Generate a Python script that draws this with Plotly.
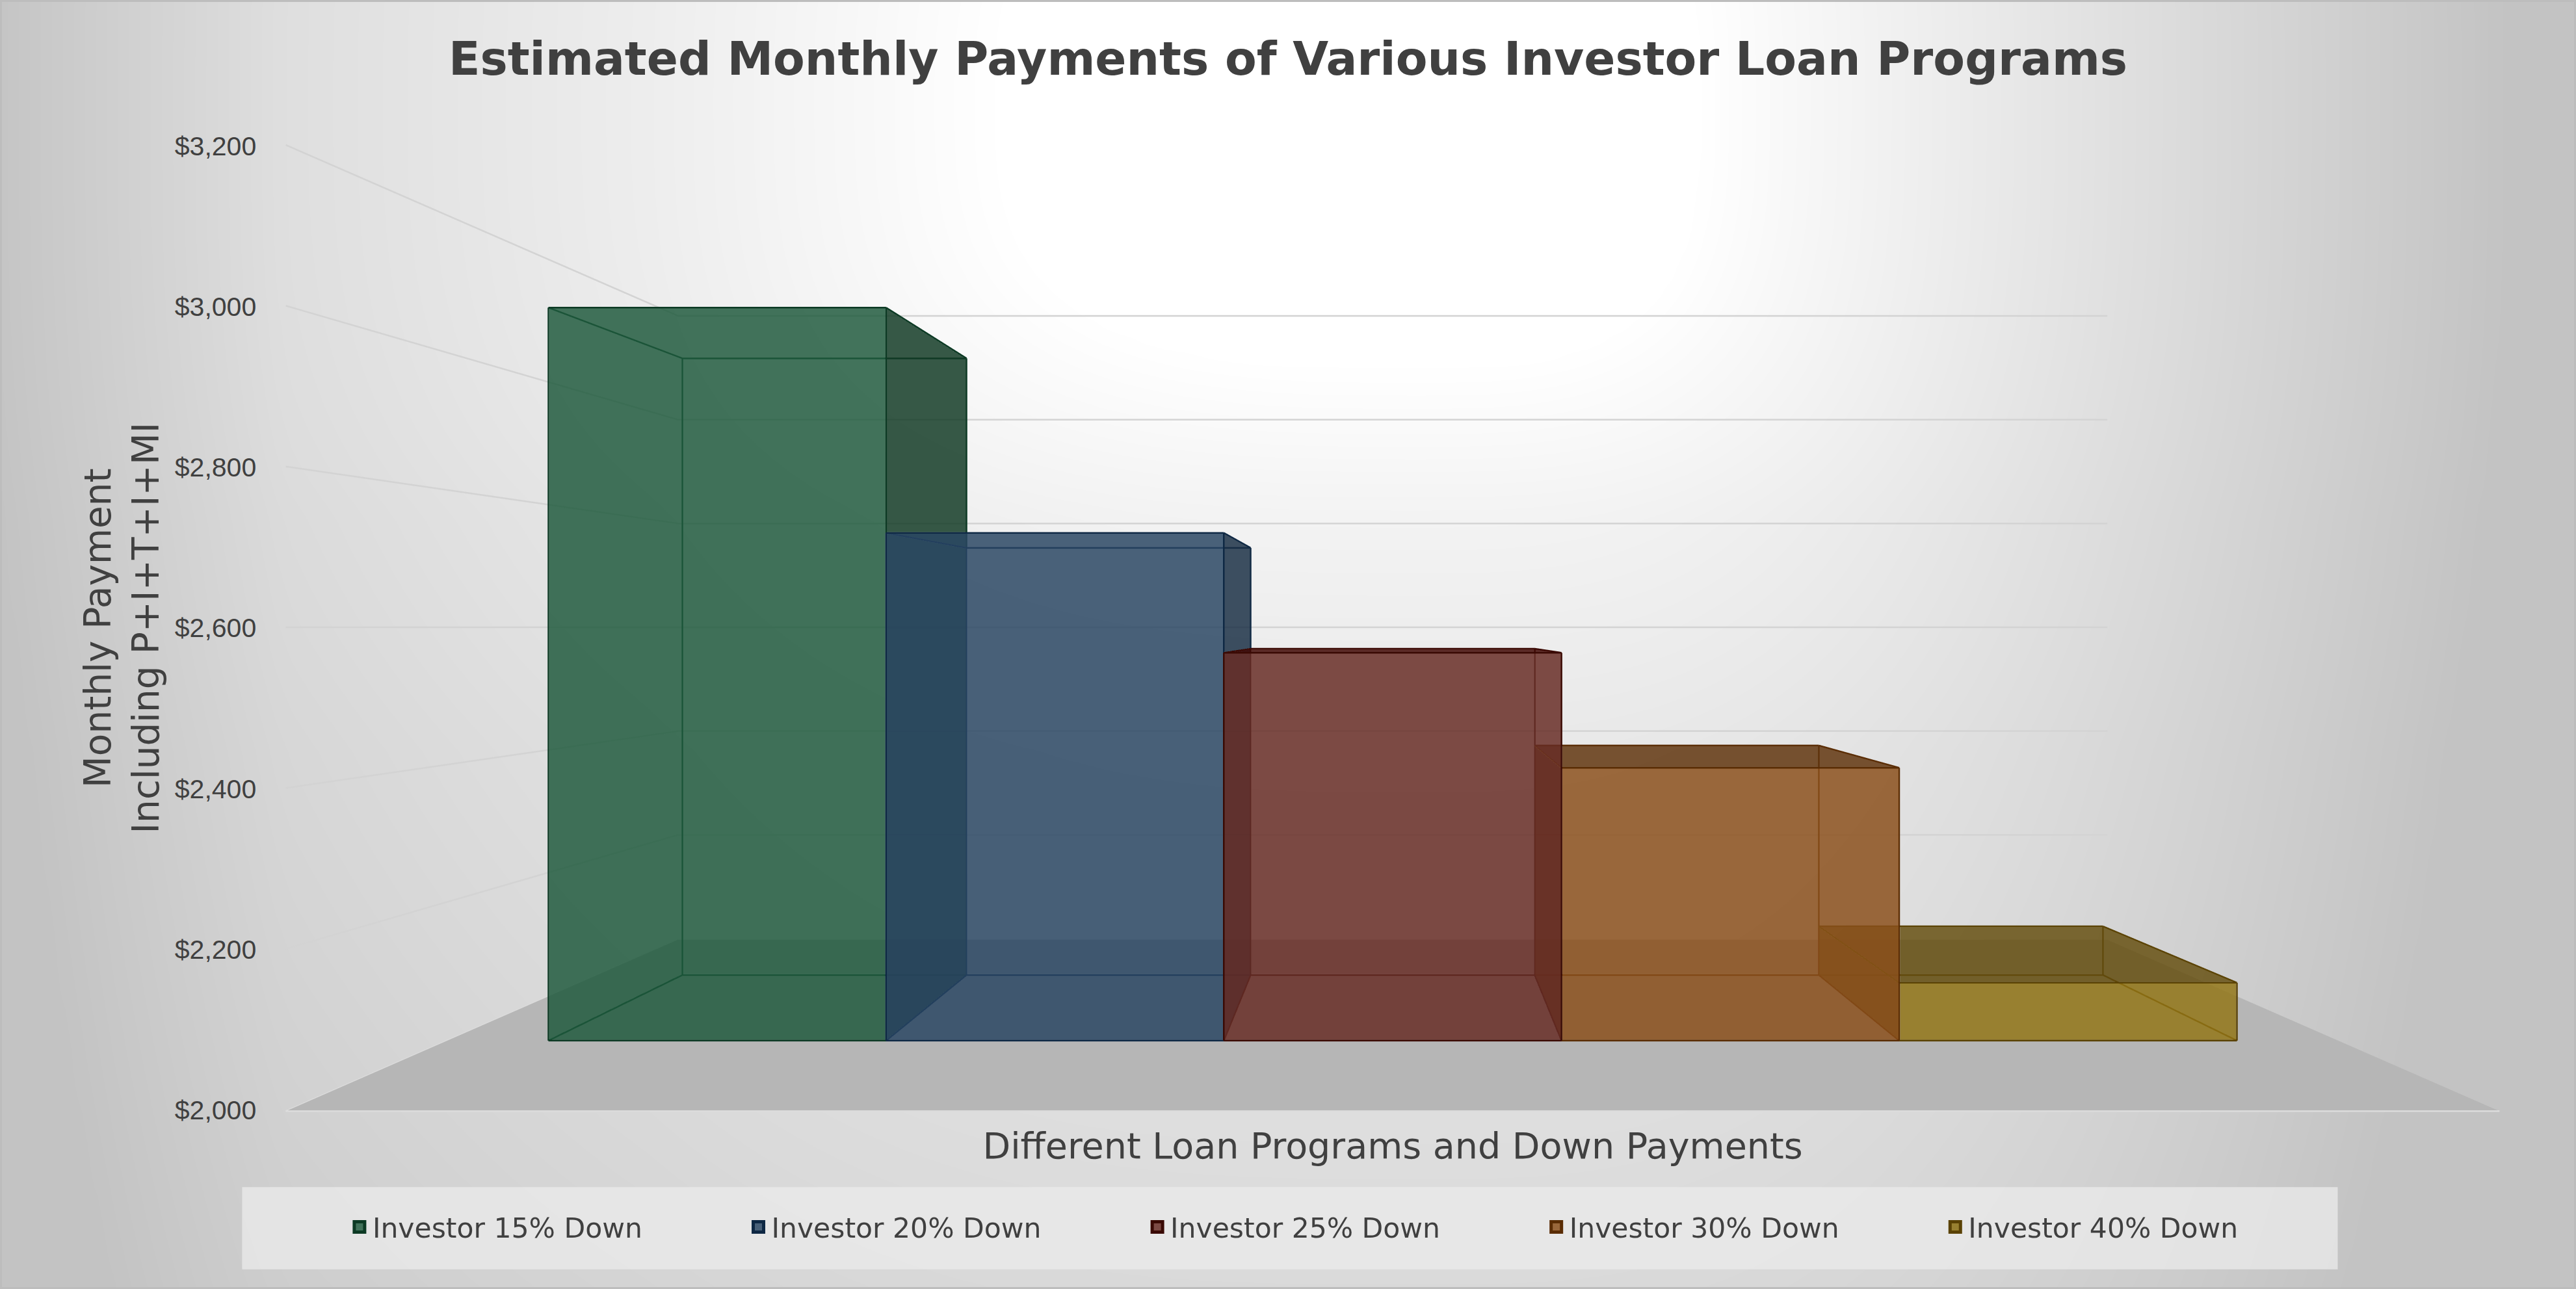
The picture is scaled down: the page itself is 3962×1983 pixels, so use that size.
import numpy as np
import plotly.graph_objects as go

# values
programs = ["Investor 15% Down", "Investor 20% Down", "Investor 25% Down", "Investor 30% Down", "Investor 40% Down"]
payments = [3064, 2737, 2563, 2396, 2084]
tick_values = [2000, 2200, 2400, 2600, 2800, 3000, 3200]

# front face is lighter, every other face of a box uses the darker one
front_colors = ["#246646", "#2f4e6e", "#763a32", "#9b5a20", "#a58519"]
other_colors = ["#113924", "#192e44", "#3e0500", "#5f330c", "#654e0f"]
edge_colors = ["#0c3a24", "#0e2844", "#3a0a04", "#5a2c04", "#5a4204"]
legend_colors = ["#41725a", "#486078", "#7c4a44", "#99673b", "#988030"]

TEXT = "#404040"
FLOOR = 2000
X_WALL = [-0.809, 4.809]
DEPTH_FRONT, DEPTH_BACK = 0.304, 0.705
FLAT = dict(ambient=1, diffuse=0, specular=0)
# boxes are blended in this order: the middle one last, it is nearest on both sides
draw_order = [0, 1, 4, 3, 2]

fig = go.Figure()

# grey radial background, sits on its own full page axes
gx = np.linspace(0, 1, 160)
gy = np.linspace(0, 1, 80)
xx, yy = np.meshgrid(gx, gy)
rx = np.where(xx < 0.55, np.interp(0.55 - xx, [0, 0.3, 0.44, 0.55], [0, 0.45, 0.62, 0.92]), (xx - 0.55) / 0.45)
ry = np.interp(np.abs(0.92 - yy), [0, 0.32, 0.5, 0.92], [0, 0.38, 0.5, 0.68])
r = (rx ** 3 + ry ** 3) ** (1 / 3)
shade = np.clip(255 - 65 * np.clip(r - 0.24, 0, None) / 0.76, 195, 255)
fig.add_trace(go.Heatmap(x=gx, y=gy, z=shade, zmin=0, zmax=255, zsmooth="best",
                         colorscale=[[0, "#000000"], [1, "#ffffff"]], showscale=False,
                         hoverinfo="skip"))

# floor of the chart, just under the boxes so their bottoms are not lost in it
floor_z = FLOOR - 2
fig.add_trace(go.Mesh3d(x=[X_WALL[0], X_WALL[1], X_WALL[1], X_WALL[0]], y=[0, 0, 1, 1], z=[floor_z] * 4,
                        i=[0, 0], j=[1, 2], k=[2, 3], color="#b6b6b6", flatshading=True,
                        lighting=FLAT, hoverinfo="skip"))
fig.add_trace(go.Scatter3d(x=[X_WALL[0], X_WALL[0], X_WALL[1]], y=[1, 0, 0], z=[floor_z] * 3, mode="lines",
                           line=dict(color="#dcdcdc", width=5), hoverinfo="skip", showlegend=False))

# gridlines run along the left wall and then across the back wall
grid_x, grid_y, grid_z = [], [], []
for v in tick_values[1:]:
    grid_x += [X_WALL[0], X_WALL[0], X_WALL[1], None]
    grid_y += [0, 1, 1, None]
    grid_z += [v, v, v, None]
fig.add_trace(go.Scatter3d(x=grid_x, y=grid_y, z=grid_z, mode="lines",
                           line=dict(color="#d3d3d3", width=5), hoverinfo="skip", showlegend=False))

for i in draw_order:
    name, value = programs[i], payments[i]
    x0, x1 = i - 0.5, i + 0.5
    y0, y1 = DEPTH_FRONT, DEPTH_BACK
    xs = [x0, x1, x1, x0, x0, x1, x1, x0]
    ys = [y0, y0, y1, y1, y0, y0, y1, y1]
    zs = [FLOOR] * 4 + [value] * 4
    # triangles are blended in the order given: back, bottom, left, right, top, front
    tri_i = [2, 2, 0, 0, 3, 3, 1, 1, 4, 4, 0, 0]
    tri_j = [3, 7, 1, 2, 0, 4, 2, 6, 5, 6, 1, 5]
    tri_k = [7, 6, 2, 3, 4, 7, 6, 5, 6, 7, 5, 4]
    facecolor = [other_colors[i]] * 10 + [front_colors[i]] * 2
    fig.add_trace(go.Mesh3d(x=xs, y=ys, z=zs, i=tri_i, j=tri_j, k=tri_k, facecolor=facecolor,
                            opacity=0.6, flatshading=True, lighting=FLAT, name=name, hoverinfo="name"))

    # box outline
    ex, ey, ez = [], [], []
    for a, b in [(0, 1), (1, 2), (2, 3), (3, 0), (4, 5), (5, 6), (6, 7), (7, 4), (0, 4), (1, 5), (2, 6), (3, 7)]:
        ex += [xs[a], xs[b], None]
        ey += [ys[a], ys[b], None]
        ez += [zs[a], zs[b], None]
    fig.add_trace(go.Scatter3d(x=ex, y=ey, z=ez, mode="lines", line=dict(color=edge_colors[i], width=5),
                               hoverinfo="skip", showlegend=False))

# legend entries, in the order of the programs
for i, name in enumerate(programs):
    fig.add_trace(go.Scatter(x=[None], y=[None], xaxis="x2", yaxis="y2", mode="markers", name=name,
                             marker=dict(symbol="square", size=16, color=legend_colors[i],
                                         line=dict(color=edge_colors[i], width=5))))

fig.update_layout(
    width=3962, height=1983,
    margin=dict(l=0, r=0, t=0, b=0, pad=0, autoexpand=False),
    paper_bgcolor="#ffffff",
    plot_bgcolor="rgba(0,0,0,0)",
    title=dict(text="<b>Estimated Monthly Payments of Various Investor Loan Programs</b>",
               x=0.5, xanchor="center", y=0.9545, yanchor="middle",
               font=dict(family="DejaVu Sans", size=71, color=TEXT)),
    xaxis=dict(domain=[0, 1], range=[0, 1], visible=False),
    yaxis=dict(domain=[0, 1], range=[0, 1], visible=False),
    xaxis2=dict(domain=[0.0813, 1], range=[0, 1], anchor="y2", showticklabels=False, showgrid=False, zeroline=False,
                showline=False, ticks="",
                title=dict(text="Different Loan Programs and Down Payments", standoff=35,
                           font=dict(family="DejaVu Sans", size=55.5, color=TEXT))),
    yaxis2=dict(domain=[0.1388, 0.8868], range=[2000, 3200], anchor="free", position=0.0995,
                tickvals=tick_values, tickformat="$,.0f", showgrid=False, zeroline=False, showline=False,
                ticks="", tickfont=dict(family="Liberation Sans", size=41, color=TEXT),
                title=dict(text="Monthly Payment<br>Including P+I+T+I+MI", standoff=5,
                           font=dict(family="DejaVu Sans", size=56.5, color=TEXT))),
    scene=dict(
        domain=dict(x=[0.0813, 1], y=[0.0287, 0.9987]),
        bgcolor="rgba(0,0,0,0)",
        aspectmode="manual",
        # ranges are a bit wider than the walls so the floor is not clipped at the scene bounds
        aspectratio=dict(x=1.4655 * 6.618 / 5.618, y=0.5487 * 1.2, z=0.6387 * 1400 / 1200),
        camera=dict(eye=dict(x=0, y=-1.274, z=0), center=dict(x=0, y=0, z=0), up=dict(x=0, y=0, z=1),
                    projection=dict(type="perspective")),
        xaxis=dict(visible=False, range=[-1.309, 5.309]),
        yaxis=dict(visible=False, range=[-0.1, 1.1]),
        zaxis=dict(visible=False, range=[1900, 3300]),
    ),
    legend=dict(orientation="h", x=0.1345, xanchor="left", y=0.048, yanchor="middle",
                bgcolor="rgba(0,0,0,0)", entrywidth=568.6, entrywidthmode="pixels",
                font=dict(family="DejaVu Sans", size=42.5, color=TEXT)),
    shapes=[
        dict(type="rect", xref="paper", yref="paper", x0=0.094, x1=0.9075, y0=0.0153, y1=0.079,
             fillcolor="rgba(235,235,235,0.75)", line=dict(width=0), layer="above"),
        dict(type="rect", xref="paper", yref="paper", x0=0, x1=1, y0=0, y1=1,
             line=dict(color="#bdbdbd", width=6), fillcolor="rgba(0,0,0,0)", layer="above"),
    ],
)

# the page's default body margin would push the chart off the window by a few pixels
fig.write_html("out.html", config={"displayModeBar": False}, post_script="document.body.style.margin = '0';")
